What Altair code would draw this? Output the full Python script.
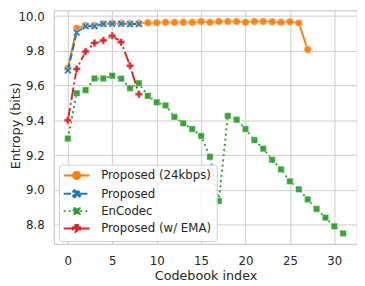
import altair as alt
import pandas as pd

series_names = ["Proposed (24kbps)", "Proposed", "EnCodec", "Proposed (w/ EMA)"]
colors = ["#ff7f0e", "#1f77b4", "#2ca02c", "#d62728"]
dashes = [[1, 0], [7.4, 3.2], [2, 3.3], [12.8, 3.2, 2, 3.2]]

proposed_24k = [9.700, 9.930, 9.946, 9.946, 9.956, 9.958, 9.958, 9.957, 9.958, 9.962,
                9.962, 9.964, 9.964, 9.964, 9.964, 9.969, 9.964, 9.969, 9.969, 9.969,
                9.965, 9.969, 9.969, 9.967, 9.964, 9.967, 9.960, 9.807]
proposed = [9.687, 9.905, 9.942, 9.942, 9.955, 9.956, 9.956, 9.954, 9.955]
encodec = [9.295, 9.556, 9.574, 9.641, 9.641, 9.657, 9.640, 9.585, 9.614, 9.541,
           9.504, 9.486, 9.420, 9.383, 9.350, 9.310, 9.190, 8.936, 9.426, 9.404,
           9.350, 9.286, 9.237, 9.173, 9.118, 9.049, 9.003, 8.945, 8.890, 8.840,
           8.790, 8.749]
proposed_ema = [9.400, 9.696, 9.796, 9.845, 9.860, 9.887, 9.850, 9.714, 9.550]

x_ticks = [0, 5, 10, 15, 20, 25, 30]
y_ticks = [8.8, 9.0, 9.2, 9.4, 9.6, 9.8, 10.0]

all_values = [proposed_24k, proposed, encodec, proposed_ema]
rows = []
for name, vals in zip(series_names, all_values):
    for i, v in enumerate(vals):
        rows.append({"series": name, "x": i, "y": v})
df = pd.DataFrame(rows)

# plot marker shapes
x_path = "M-1,-0.6L-0.6,-1L0,-0.4L0.6,-1L1,-0.6L0.4,0L1,0.6L0.6,1L0,0.4L-0.6,1L-1,0.6L-0.4,0Z"
plot_shapes = ["circle", x_path, "square", "cross"]
plot_sizes = [60, 60, 44, 60]

# legend symbols: line + marker
seg = "M-3.3,0H-0.9M0.9,0H3.3"
leg_shapes = [
    seg + "M0.9,0A0.9,0.9,0,1,1,-0.9,0A0.9,0.9,0,1,1,0.9,0Z",
    seg + "M-0.9,-0.54L-0.54,-0.9L0,-0.36L0.54,-0.9L0.9,-0.54L0.36,0L0.9,0.54L0.54,0.9L0,0.36L-0.54,0.9L-0.9,0.54L-0.36,0Z",
    seg + "M-0.75,-0.75H0.75V0.75H-0.75Z",
    seg + "M-0.3,-0.9H0.3V-0.3H0.9V0.3H0.3V0.9H-0.3V0.3H-0.9V-0.3H-0.3Z",
]

W, H = 309, 238

xenc = alt.X("x:Q", scale=alt.Scale(domain=[-1.55, 32.55], nice=False, zero=False),
             axis=alt.Axis(values=x_ticks, title="Codebook index", labelPadding=12, titlePadding=3))
yenc = alt.Y("y:Q", scale=alt.Scale(domain=[8.688, 10.031], nice=False, zero=False),
             axis=alt.Axis(values=y_ticks, format=".1f", title="Entropy (bits)", labelPadding=10,
                           titleX=-35, titleY=117, titleBaseline="alphabetic"))

layers = []
for name, c, d, shp, sz in zip(series_names, colors, dashes, plot_shapes, plot_sizes):
    sub = alt.Chart(df).transform_filter(alt.datum.series == name)
    line = sub.mark_line(strokeWidth=2, clip=True).encode(
        x=xenc, y=yenc, color=alt.value(c), strokeDash=alt.value(d),
    )
    pts = sub.mark_point(filled=True, opacity=0.92, stroke="white", strokeWidth=0.7,
                         strokeOpacity=0.7, clip=True).encode(
        x=xenc, y=yenc, color=alt.value(c), shape=alt.value(shp), size=alt.value(sz),
    )
    layers += [line, pts]

color_scale = alt.Scale(domain=series_names, range=colors)
legend_layer = alt.Chart(df).transform_filter("datum.x < -100").mark_point(
    filled=True, opacity=1, strokeWidth=2, size=64).encode(
    x=xenc, y=yenc,
    color=alt.Color("series:N", scale=color_scale, legend=alt.Legend(title=None)),
    stroke=alt.Stroke("series:N", scale=color_scale, legend=alt.Legend(title=None)),
    shape=alt.Shape("series:N", scale=alt.Scale(domain=series_names, range=leg_shapes),
                    legend=alt.Legend(title=None)),
    strokeDash=alt.StrokeDash("series:N", scale=alt.Scale(domain=series_names, range=dashes),
                              legend=alt.Legend(title=None)),
)

chart = alt.layer(*layers, legend_layer).properties(
    width=W, height=H,
    autosize=alt.AutoSizeParams(type="none"),
    padding={"left": 47, "top": 0, "right": 0, "bottom": 40},
).configure_view(
    stroke="#cccccc", strokeWidth=1.25
).configure_axis(
    grid=True, gridColor="#cccccc", gridWidth=1, domain=False, ticks=False,
    labelFont="DejaVu Sans", labelFontSize=12, labelColor="#262626",
    titleFont="DejaVu Sans", titleFontSize=13, titleColor="#262626", titleFontWeight="normal",
).configure_legend(
    orient="none", legendX=5, legendY=157,
    labelFont="DejaVu Sans", labelFontSize=12, labelColor="#262626", labelLimit=300,
    symbolSize=64, symbolStrokeWidth=2, symbolOffset=7, labelOffset=19,
    padding=5, rowPadding=2.7,
    strokeColor="#cccccc", fillColor="rgba(255,255,255,0.8)", cornerRadius=3,
)

chart.save("out.html", embed_options={"renderer": "svg", "actions": False})
